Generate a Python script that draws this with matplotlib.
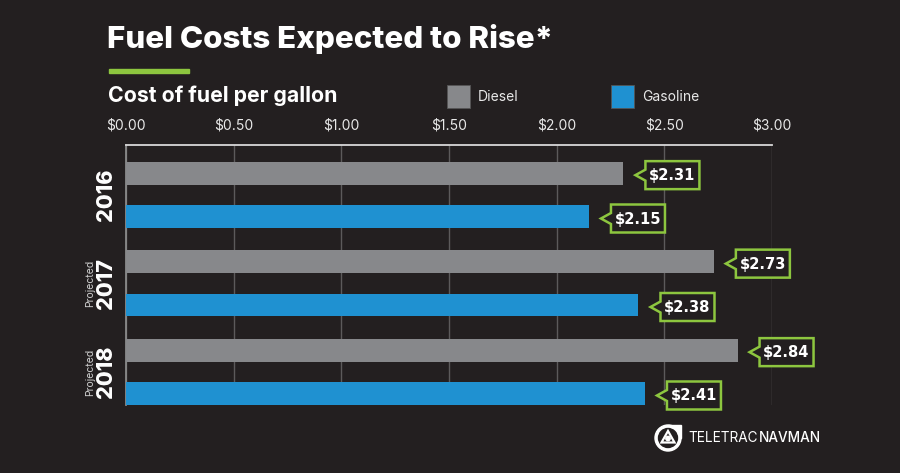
import matplotlib
matplotlib.use("Agg")
import matplotlib.pyplot as plt
import matplotlib.patches as mpat
import numpy as np

# data
years = ["2016", "2017", "2018"]
projected = [False, True, True]
diesel = [2.31, 2.73, 2.84]
gasoline = [2.15, 2.38, 2.41]
ticks = [0.0, 0.5, 1.0, 1.5, 2.0, 2.5, 3.0]
tick_labels = ["$%.2f" % t for t in ticks]

bg = "#231f20"
grey = "#87888b"
blue = "#1f91d1"
green = "#8dc63f"
W, H = 900, 473

fig = plt.figure(figsize=(9, 4.73), dpi=100, facecolor=bg)

# main bar axes, placed in pixels
ax = fig.add_axes([126 / W, 1 - 405 / H, 646 / W, 260 / H], facecolor="none")
gy = np.arange(len(years))
ax.barh(gy - 0.245, diesel, height=0.258, color=grey, zorder=3)
ax.barh(gy + 0.245, gasoline, height=0.258, color=blue, zorder=3)
ax.set_xlim(0, 3.0)
ax.set_ylim(2.375, -0.563)
ax.set_xticks(ticks)
ax.set_xticklabels(tick_labels)
ax.set_yticks([])
ax.xaxis.tick_top()
ax.tick_params(axis="x", length=0, pad=9, labelsize=10, labelcolor="#e8e8e8")
for lab in ax.get_xticklabels():
    lab.set_family("Inter")
ax.grid(axis="x", color="#5c5a5b", linewidth=1, zorder=0)
for s in ["right", "bottom"]:
    ax.spines[s].set_visible(False)
ax.spines["top"].set_color("#d8d8d8")
ax.spines["top"].set_linewidth(1.3)
ax.spines["left"].set_color("#8a8a8a")
ax.spines["left"].set_linewidth(1.3)

# overlay axes in pixel coords (y down) for the decorations
ov = fig.add_axes([0, 0, 1, 1], facecolor="none")
ov.set_xlim(0, W)
ov.set_ylim(H, 0)
ov.axis("off")

def to_px(x, y):
    d = ax.transData.transform((x, y))
    return ov.transData.inverted().transform(d)

ov.text(107, 39, "Fuel Costs Expected to Rise*", color="white", fontsize=22.6,
        fontweight="heavy", family="Inter", va="center", ha="left")
ov.add_patch(mpat.Rectangle((109, 69), 80, 4.5, color=green))
ov.text(108, 96, "Cost of fuel per gallon", color="white", fontsize=15.3,
        fontweight="bold", family="Inter", va="center", ha="left")

# legend
for x0, col, name in [(447, grey, "Diesel"), (611, blue, "Gasoline")]:
    ov.add_patch(mpat.Rectangle((x0, 85), 23, 23, facecolor=col, edgecolor="#555555", lw=0.6))
    ov.text(x0 + 31, 97, name, color="#e8e8e8", fontsize=10, family="Inter",
            va="center", ha="left")

# year labels
for i, yr in enumerate(years):
    cx, cy = to_px(0, gy[i])
    ov.text(106, cy, yr, color="white", fontsize=15.5, fontweight="heavy", family="Inter",
            rotation=90, ha="center", va="center")
    if projected[i]:
        ov.text(90, cy + 24, "Projected", color="#cfcfcf", fontsize=7.5, family="Inter",
                rotation=90, ha="center", va="bottom")

# callouts
def callout(val, yv):
    X, yc = to_px(val, yv)
    yc += 2
    verts = [(X + 22, yc - 14), (X + 76, yc - 14), (X + 76, yc + 14), (X + 22, yc + 14),
             (X + 22, yc + 5.5), (X + 12, yc), (X + 22, yc - 5.5)]
    ov.add_patch(mpat.Polygon(verts, closed=True, facecolor=bg, edgecolor=green,
                              lw=1.8, joinstyle="miter", zorder=5))
    ov.text(X + 49, yc + 0.5, "$%.2f" % val, color="white", fontsize=11.8,
            fontweight="bold", family="DejaVu Sans", fontstretch="condensed",
            ha="center", va="center", zorder=6)

for i in range(len(years)):
    callout(diesel[i], gy[i] - 0.245)
    callout(gasoline[i], gy[i] + 0.245)

# logo
lx, ly = 668, 438
ov.add_patch(mpat.Circle((lx, ly), 13, color="white"))
ov.add_patch(mpat.Rectangle((lx, ly - 13), 13, 13, color="white"))
ov.add_patch(mpat.Circle((lx, ly), 9.5, color=bg))
ov.add_patch(mpat.Polygon([(lx, ly - 7), (lx + 6.5, ly + 4.5), (lx - 6.5, ly + 4.5)],
                          closed=True, fill=False, edgecolor="white", lw=1.6))
ov.add_patch(mpat.Circle((lx, ly + 0.5), 2.2, color="white"))
t1 = ov.text(688, ly, "TELETRAC", color="white", fontsize=9.8, family="Inter",
             va="center", ha="left")
fig.canvas.draw()
bb = t1.get_window_extent()
x_end = ov.transData.inverted().transform((bb.x1, bb.y0))[0]
ov.text(x_end + 1, ly, "NAVMAN", color="white", fontsize=9.8, fontweight="medium",
        family="Inter", va="center", ha="left")

fig.savefig("out.png", dpi=100, facecolor=bg)
